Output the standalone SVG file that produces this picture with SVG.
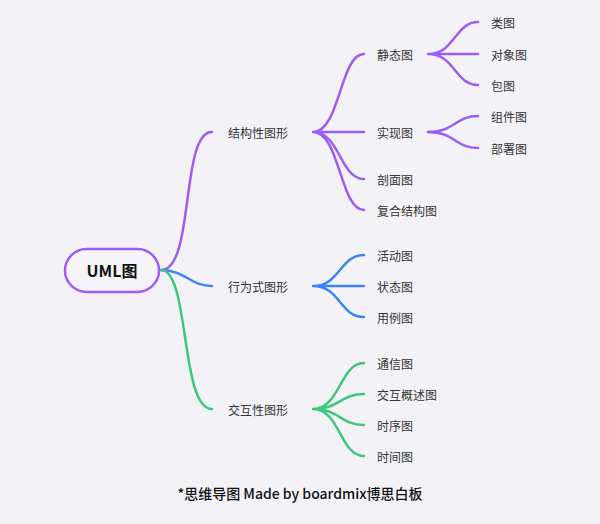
<svg xmlns="http://www.w3.org/2000/svg" width="600" height="524" viewBox="0 0 600 524">
<style>
text{font-family:"Noto Sans CJK SC","Noto Sans",sans-serif;font-size:12px;fill:#333;dominant-baseline:central}
.c{fill:none;stroke-width:2.5;stroke-linecap:round}
.p{stroke:#9d5cf5}.b{stroke:#3d82f6}.g{stroke:#3cc67f}
</style>
<rect width="600" height="524" fill="#f3f3f7"/>
<g id="connectors">
<path class="c p" d="M161,270 C195,270 180,132 212,132"/>
<path class="c b" d="M161,270 C185,270 190,286 212,286"/>
<path class="c g" d="M161,270 C190,270 180,409 212,409"/>
<path class="c p" d="M313,132 C340,132 340,54 364,54 M313,132 H364 M313,132 C340,132 340,179 364,179 M313,132 C340,132 340,210 364,210"/>
<path class="c p" d="M428,54 C455,54 455,22 478,22 M428,54 H478 M428,54 C455,54 455,85 478,85"/>
<path class="c p" d="M428,132 C455,132 455,116 478,116 M428,132 C455,132 455,148 478,148"/>
<path class="c b" d="M313,286 C340,286 340,255 364,255 M313,286 H364 M313,286 C340,286 340,317 364,317"/>
<path class="c g" d="M313,409 C340,409 340,363 364,363 M313,409 C340,409 340,394 364,394 M313,409 C340,409 340,425 364,425 M313,409 C340,409 340,456 364,456"/>
</g>
<g id="root"><rect x="65" y="249" width="94" height="43" rx="21.5" fill="#f5f5f9" stroke="#9d5cf5" stroke-width="2.5"/><text x="112" y="270" text-anchor="middle" style="font-size:16px;font-weight:bold;fill:#111">UML图</text></g>
<g id="n1"><text x="228" y="132">结构性图形</text></g>
<g id="n2"><text x="228" y="286">行为式图形</text></g>
<g id="n3"><text x="228" y="409">交互性图形</text></g>
<g id="n11"><text x="377" y="54">静态图</text></g>
<g id="n12"><text x="377" y="132">实现图</text></g>
<g id="n13"><text x="377" y="179">剖面图</text></g>
<g id="n14"><text x="377" y="210">复合结构图</text></g>
<g id="n111"><text x="491" y="22">类图</text></g>
<g id="n112"><text x="491" y="54">对象图</text></g>
<g id="n113"><text x="491" y="85">包图</text></g>
<g id="n121"><text x="491" y="116">组件图</text></g>
<g id="n122"><text x="491" y="148">部署图</text></g>
<g id="n21"><text x="377" y="255">活动图</text></g>
<g id="n22"><text x="377" y="286">状态图</text></g>
<g id="n23"><text x="377" y="317">用例图</text></g>
<g id="n31"><text x="377" y="363">通信图</text></g>
<g id="n32"><text x="377" y="394">交互概述图</text></g>
<g id="n33"><text x="377" y="425">时序图</text></g>
<g id="n34"><text x="377" y="456">时间图</text></g>
<text x="300" y="493" text-anchor="middle" style="font-size:14px;font-weight:500;fill:#111">*思维导图 Made by boardmix博思白板</text>
</svg>
